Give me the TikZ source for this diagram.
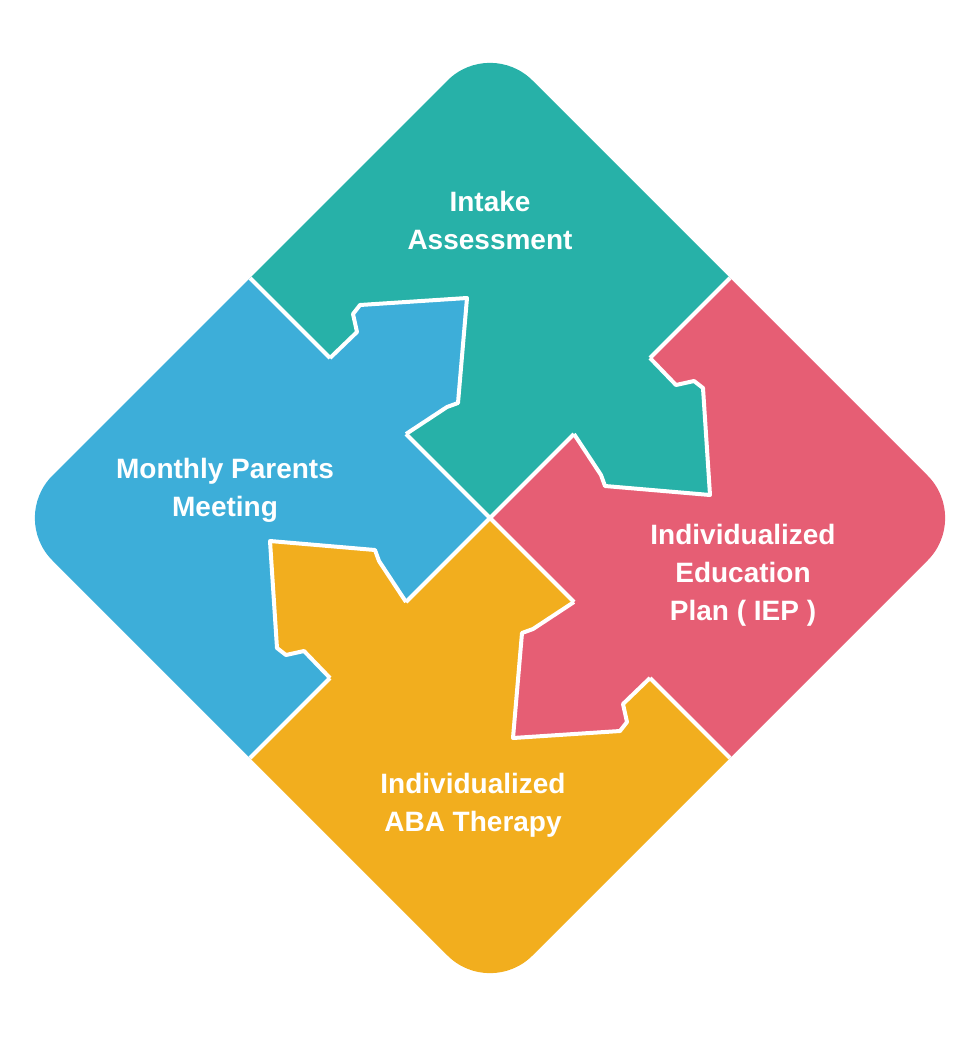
\documentclass[tikz,border=0pt]{standalone}
\usepackage{fontspec}
\setmainfont{Liberation Sans}
\definecolor{teal1}{HTML}{27B1A8}
\definecolor{blue1}{HTML}{3DAED9}
\definecolor{red1}{HTML}{E65E74}
\definecolor{yellow1}{HTML}{F2AE1E}
\tikzset{
  label/.style={text=white,font=\bfseries\fontsize{21}{28.5}\selectfont,align=center},
  gap/.style={draw=white,line width=3pt,line join=round}
}
\begin{document}
\begin{tikzpicture}[x=0.75pt,y=-0.75pt]
\useasboundingbox (0,0) rectangle (980,1043);
\begin{scope}[shift={(490,518)}]
\begin{scope}
\clip[rounded corners=45pt] (0,-480) -- (480,0) -- (0,480) -- (-480,0) -- cycle;
% quadrants
\foreach \c/\a in {blue1/0,teal1/-90,red1/-180,yellow1/90}{
  \fill[\c,rotate=\a] (0,0) -- (-240,-240) -- (-500,0) -- (-240,240) -- cycle;
}
% arrows
\foreach \c/\a in {blue1/0,teal1/-90,red1/-180,yellow1/90}{
  \fill[\c,rotate=\a] (-165,-155) -- (-160,-160) -- (-133,-186) -- (-137,-204) -- (-130,-213)
    -- (-23,-220) -- (-32,-115) -- (-43,-111) -- (-84,-84) -- (-89,-79) -- cycle;
  \draw[gap,rotate=\a] (-160,-160) -- (-133,-186) -- (-137,-204) -- (-130,-213)
    -- (-23,-220) -- (-32,-115) -- (-43,-111) -- (-84,-84);
}
% separators
\draw[gap] (-240,-240) -- (-160,-160) (-84,-84) -- (0,0);
\draw[gap] (240,-240) -- (160,-160) (84,-84) -- (0,0);
\draw[gap] (240,240) -- (160,160) (84,84) -- (0,0);
\draw[gap] (-240,240) -- (-160,160) (-84,84) -- (0,0);
\end{scope}
\end{scope}
\node[label] (intake) at (490,220) {Intake\\Assessment};
\node[label] (parents) at (225,490) {Monthly Parents\\Meeting};
\node[label] (iep) at (743,575) {Individualized\\Education\\Plan ( IEP )};
\node[label] (aba) at (473,805) {Individualized\\ABA Therapy};
\end{tikzpicture}
\end{document}
